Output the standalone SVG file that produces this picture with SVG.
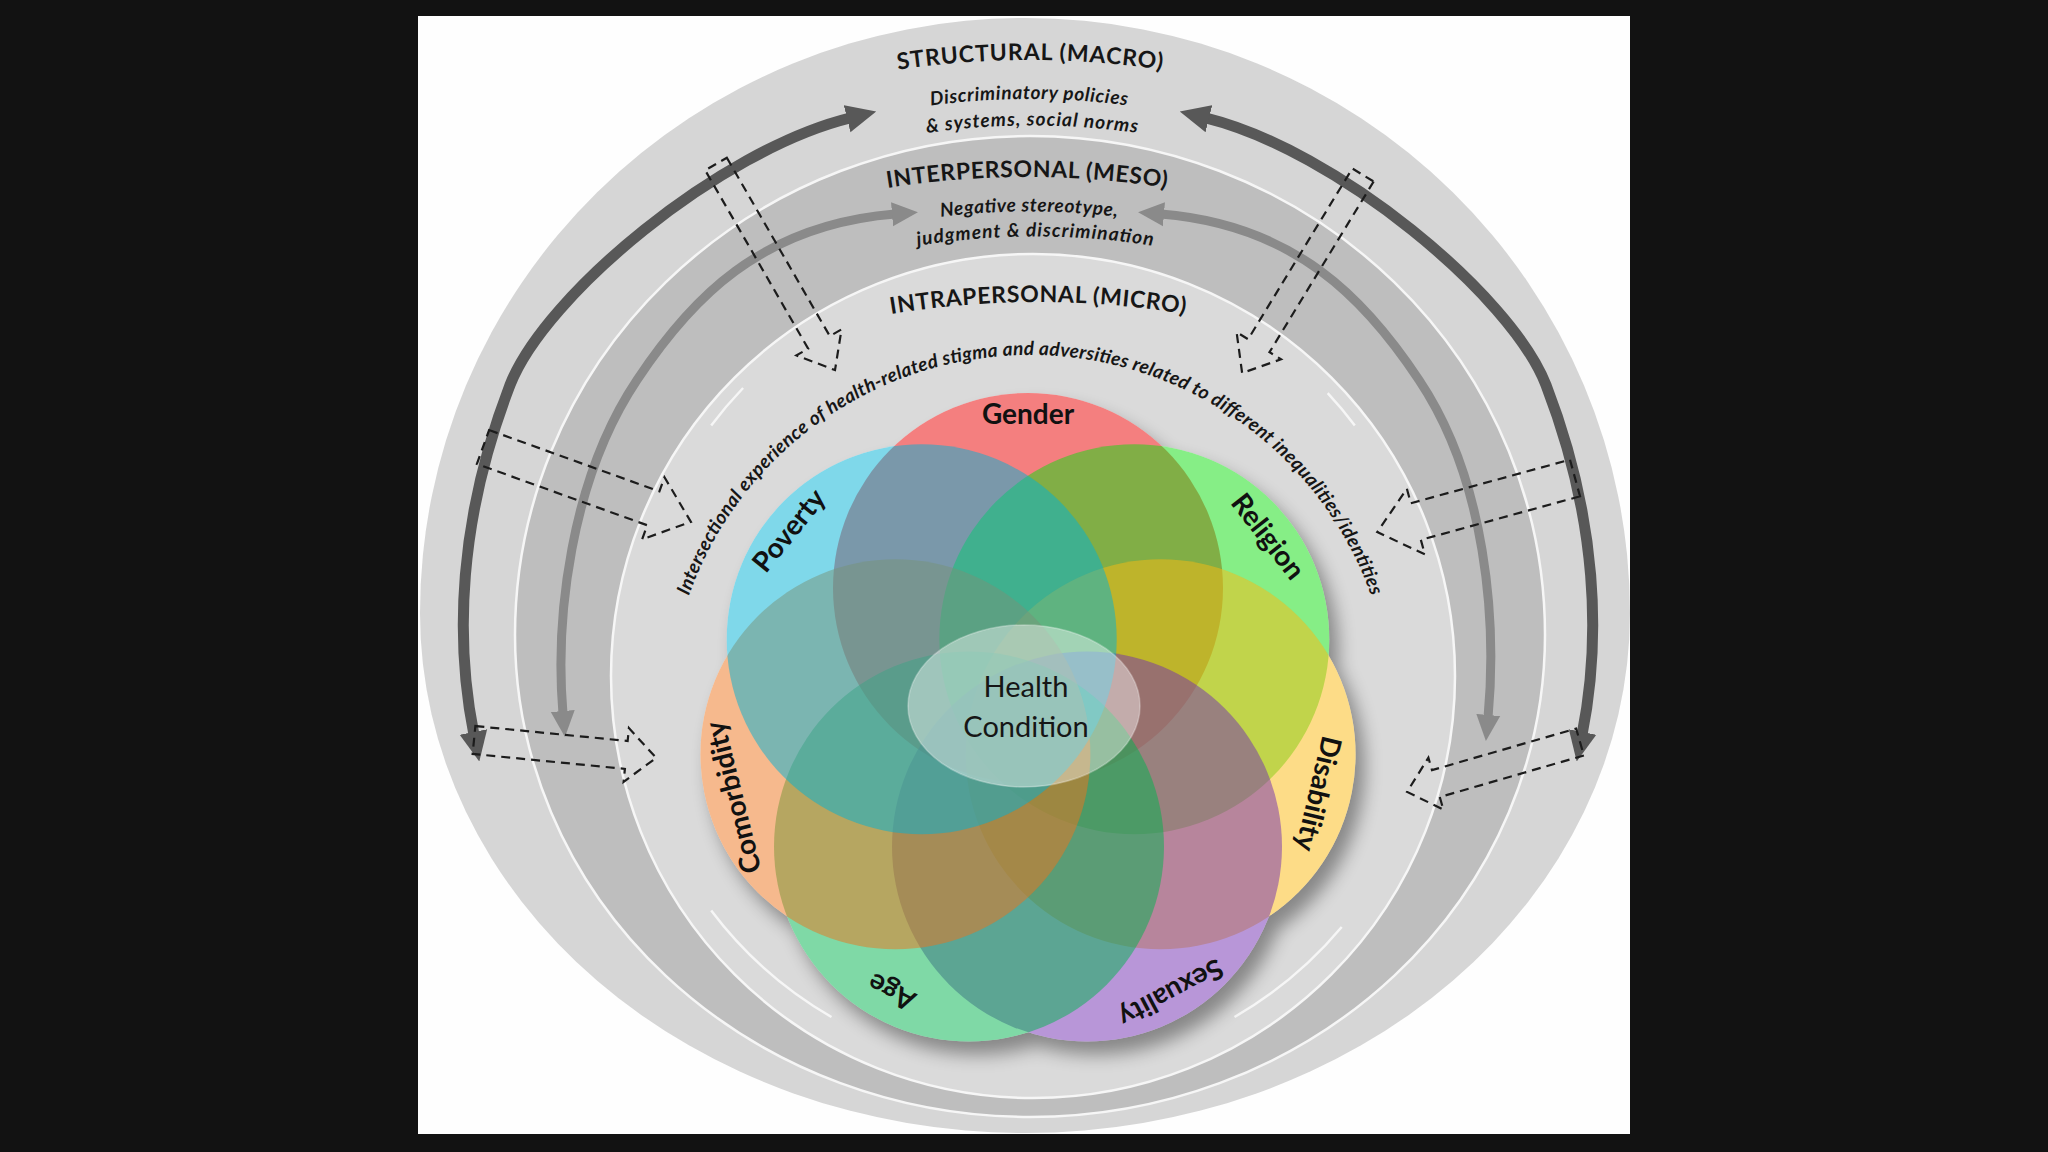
<svg xmlns="http://www.w3.org/2000/svg" width="2048" height="1152" viewBox="0 0 2048 1152">
<defs>
<style>
.f{font-family:Lato,'Open Sans','Liberation Sans',sans-serif;fill:#161616}
.cap{font-size:23px;font-weight:700}
.ital{font-size:19px;font-weight:700;font-style:italic}
.lbl{font-family:Lato,'Open Sans','Liberation Sans',sans-serif;font-weight:700;font-size:28px;fill:#111;text-anchor:middle;dominant-baseline:central}
.petal{fill-opacity:0.5}
.dash{fill:none;stroke:#1c1c1c;stroke-width:2.2;stroke-dasharray:9 6;stroke-linejoin:miter}
.adark{fill:none;stroke:#585858;stroke-width:11}
.amid{fill:none;stroke:#8a8a8a;stroke-width:9}
.wl{fill:none;stroke:#f6f6f6;stroke-width:2.5}
</style>
<clipPath id="panel"><rect x="418" y="16" width="1212" height="1118"/></clipPath>
<marker id="hdark" markerUnits="userSpaceOnUse" markerWidth="30" markerHeight="30" viewBox="0 0 30 30" refX="3" refY="15" orient="auto-start-reverse"><path d="M0,1 L30,15 L0,29 Z" fill="#585858"/></marker>
<marker id="hmid" markerUnits="userSpaceOnUse" markerWidth="26" markerHeight="26" viewBox="0 0 26 26" refX="3" refY="13" orient="auto-start-reverse"><path d="M0,1 L26,13 L0,25 Z" fill="#8a8a8a"/></marker>
<filter id="blur" x="-20%" y="-20%" width="140%" height="140%"><feGaussianBlur stdDeviation="9"/></filter>
<g id="union">
<circle cx="1028" cy="588" r="195"/><circle cx="1134.3" cy="639.2" r="195"/><circle cx="1160.6" cy="754.3" r="195"/><circle cx="1087" cy="846.5" r="195"/><circle cx="969" cy="846.5" r="195"/><circle cx="895.4" cy="754.3" r="195"/><circle cx="921.7" cy="639.2" r="195"/>
</g>
<path id="p-struct" d="M 580 180.6 A 900 900 0 0 1 1480 180.6"/>
<path id="p-disc" d="M 654 199.5 A 750 750 0 0 1 1404 199.5"/>
<path id="p-syst" d="M 657 226 A 750 750 0 0 1 1407 226"/>
<path id="p-inter" d="M 577 297.6 A 900 900 0 0 1 1477 297.6"/>
<path id="p-neg" d="M 654 312 A 750 750 0 0 1 1404 312"/>
<path id="p-judg" d="M 660 337 A 750 750 0 0 1 1410 337"/>
<path id="p-intra" d="M 588 422.6 A 900 900 0 0 1 1488 422.6"/>
<path id="p-isect" d="M 668 717 A 362 362 0 0 1 1392 717"/>
</defs>

<rect x="0" y="0" width="2048" height="1152" fill="#121212"/>
<rect x="418" y="16" width="1212" height="1118" fill="#fefefe"/>

<g id="rings" clip-path="url(#panel)">
<path d="M 420 613 A 605 595 0 0 1 1630 613 A 605 520 0 0 1 420 613 Z" fill="#d6d6d6"/>
<path d="M 515 635 A 515 499 0 0 1 1545 635 A 515 482 0 0 1 515 635 Z" fill="#bebebe" stroke="#f6f6f6" stroke-width="2.5"/>
<circle cx="1033" cy="676" r="422" fill="#dadada" stroke="#f6f6f6" stroke-width="2.5"/>
<path class="wl" d="M 711.2 425.5 A 403 403 0 0 1 743.1 388"/>
<path class="wl" d="M 1327.7 393.2 A 403 403 0 0 1 1354.8 425.5"/>
<path class="wl" d="M 831.5 1017 A 403 403 0 0 1 711.2 910.5"/>
<path class="wl" d="M 1341.7 927 A 403 403 0 0 1 1234.5 1017"/>
</g>

<g id="node-structural" class="f">
<text class="cap"><textPath href="#p-struct" startOffset="50%" text-anchor="middle" textLength="265">STRUCTURAL (MACRO)</textPath></text>
<text class="ital"><textPath href="#p-disc" startOffset="50%" text-anchor="middle" textLength="197">Discriminatory policies</textPath></text>
<text class="ital"><textPath href="#p-syst" startOffset="50%" text-anchor="middle" textLength="211">&amp; systems, social norms</textPath></text>
</g>
<g id="node-interpersonal" class="f">
<text class="cap"><textPath href="#p-inter" startOffset="50%" text-anchor="middle" textLength="280">INTERPERSONAL (MESO)</textPath></text>
<text class="ital"><textPath href="#p-neg" startOffset="50%" text-anchor="middle" textLength="177">Negative stereotype,</textPath></text>
<text class="ital"><textPath href="#p-judg" startOffset="50%" text-anchor="middle" textLength="236">judgment &amp; discrimination</textPath></text>
</g>

<g id="connectors">
<path class="adark" marker-start="url(#hdark)" marker-end="url(#hdark)" d="M 474 735 C 455 640, 458 520, 510 385 C 545 295, 720 150, 850 118"/>
<path class="adark" marker-start="url(#hdark)" marker-end="url(#hdark)" d="M 1582 735 C 1601 640, 1598 520, 1546 385 C 1511 295, 1336 150, 1206 118"/>
<path class="amid" marker-start="url(#hmid)" marker-end="url(#hmid)" d="M 563 714 C 555 620, 570 480, 637 380 C 690 300, 760 225, 895 214"/>
<path class="amid" marker-start="url(#hmid)" marker-end="url(#hmid)" d="M 1488 718 C 1497 620, 1486 480, 1419 380 C 1366 300, 1296 225, 1161 214"/>
<polygon class="dash" transform="translate(716,164) rotate(60)" points="0,-12.5 206,-12.5 206,-26 238,0 206,26 206,12.5 0,12.5"/>
<polygon class="dash" transform="translate(1363,175) rotate(121.4)" points="0,-12.5 200,-12.5 200,-26 232,0 200,26 200,12.5 0,12.5"/>
<polygon class="dash" transform="translate(483,447) rotate(19.8)" points="0,-18 181,-18 181,-33 221,0 181,33 181,18 0,18"/>
<polygon class="dash" transform="translate(474,740) rotate(5.6)" points="0,-14 153,-14 153,-27 183,0 153,27 153,14 0,14"/>
<polygon class="dash" transform="translate(1575,478) rotate(164.7)" points="0,-19 165,-19 165,-34 205,0 165,34 165,19 0,19"/>
<polygon class="dash" transform="translate(1580,742) rotate(163.9)" points="0,-14 150,-14 150,-27 180,0 150,27 150,14 0,14"/>
</g>

<g id="node-intrapersonal" class="f">
<text class="cap"><textPath href="#p-intra" startOffset="50%" text-anchor="middle" textLength="295">INTRAPERSONAL (MICRO)</textPath></text>
<text style="font-size:19px;font-weight:700;font-style:italic"><textPath href="#p-isect" startOffset="50%" text-anchor="middle" textLength="890" lengthAdjust="spacing">Intersectional experience of health-related stigma and adversities related to different inequalities/identities</textPath></text>
</g>

<g id="flower-shadow">
<use href="#union" transform="translate(9,13)" fill="#000" opacity="0.38" filter="url(#blur)"/>
<use href="#union" fill="#ffffff"/>
</g>

<g id="node-gender"><circle class="petal" cx="1028" cy="588" r="195" fill="#e90000"/><text class="lbl" x="1028" y="413" transform="rotate(0 1028 724)">Gender</text></g>
<g id="node-religion"><circle class="petal" cx="1134.3" cy="639.2" r="195" fill="#0ddd0d"/><text class="lbl" x="1028" y="418" transform="rotate(52 1028 724)">Religion</text></g>
<g id="node-disability"><circle class="petal" cx="1160.6" cy="754.3" r="195" fill="#fbb90f"/><text class="lbl" x="1028" y="424" transform="rotate(103.5 1028 724)">Disability</text></g>
<g id="node-sexuality"><circle class="petal" cx="1087" cy="846.5" r="195" fill="#712db1"/><text class="lbl" x="1028" y="418" transform="rotate(152 1028 724)">Sexuality</text></g>
<g id="node-age"><circle class="petal" cx="969" cy="846.5" r="195" fill="#00b34d"/><text class="lbl" x="1028" y="422" transform="rotate(207 1028 724)">Age</text></g>
<g id="node-comorbidity"><circle class="petal" cx="895.4" cy="754.3" r="195" fill="#ed731b"/><text class="lbl" x="1028" y="419" transform="rotate(256 1028 724)">Comorbidity</text></g>
<g id="node-poverty"><circle class="petal" cx="921.7" cy="639.2" r="195" fill="#00b1d5"/><text class="lbl" x="1028" y="415" transform="rotate(309 1028 724)">Poverty</text></g>

<g id="node-health">
<ellipse cx="1024" cy="706" rx="116" ry="81" fill="#ffffff" fill-opacity="0.42" stroke="#ffffff" stroke-opacity="0.3" stroke-width="1.5"/>
<text class="f" x="1026" y="697" text-anchor="middle" style="font-size:29px">Health</text>
<text class="f" x="1026" y="737" text-anchor="middle" style="font-size:29px">Condition</text>
</g>
</svg>
